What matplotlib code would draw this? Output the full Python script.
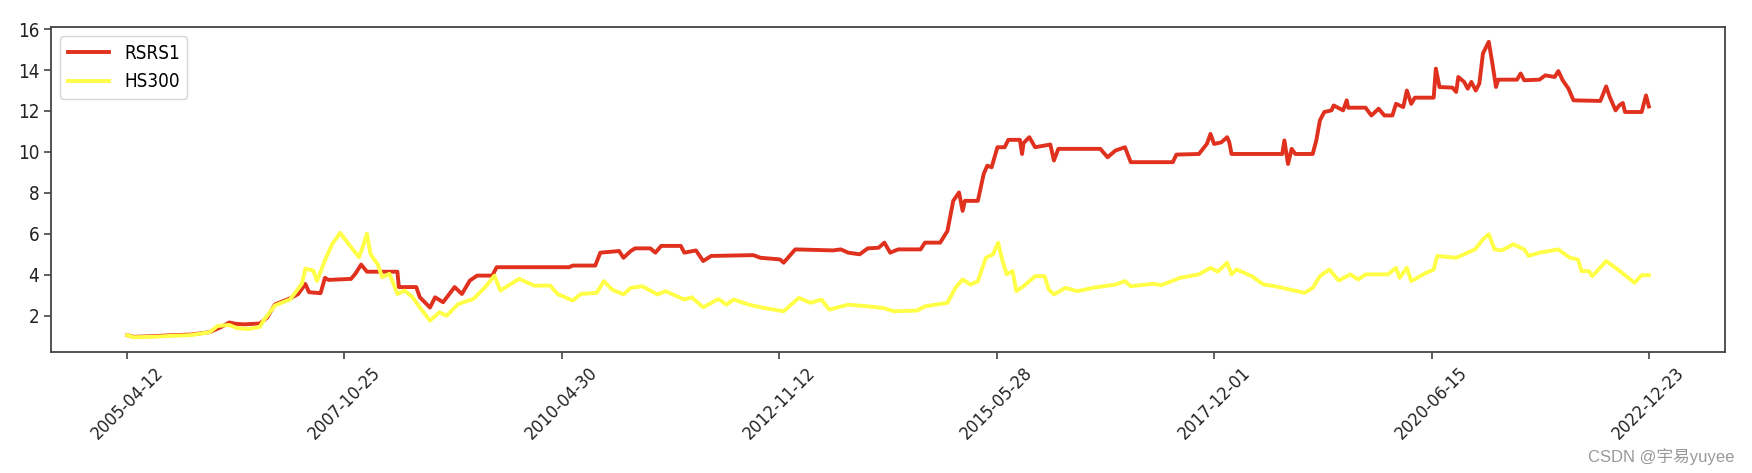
import numpy as np
import matplotlib
matplotlib.use("Agg")
import matplotlib.pyplot as plt

# x = sample step along the trading-day axis (0 .. 210), tick every 30 steps
tick_labels = ["2005-04-12", "2007-10-25", "2010-04-30", "2012-11-12",
               "2015-05-28", "2017-12-01", "2020-06-15", "2022-12-23"]

rsrs_t = [0, 0.9, 3.5, 6.2, 8.8, 11.4, 13.0, 14.1, 15.1, 16.2, 18.3, 19.3, 20.4, 22.5,
          23.6, 24.6, 25.1, 26.7, 27.3, 27.8, 30.9, 31.5, 32.3, 33.1, 37.3, 37.5, 39.9,
          40.4, 41.8, 42.5, 43.6, 45.2, 46.2, 47.3, 48.3, 50.4, 51.0, 61.0, 61.5, 64.6,
          65.3, 67.9, 68.5, 69.5, 70.1, 72.2, 72.9, 73.7, 76.4, 76.9, 78.5, 79.5, 80.6,
          86.4, 87.4, 90.1, 90.6, 92.2, 97.4, 98.5, 99.5, 101.1, 102.2, 103.7, 104.5,
          105.3, 106.4, 109.5, 110.1, 112.2, 113.2, 114.0, 114.8, 115.3, 115.6, 117.4,
          118.2, 118.7, 119.3, 120.1, 121.1, 121.6, 123.2, 123.5, 123.7, 124.5, 125.3,
          127.4, 127.9, 128.5, 134.3, 135.3, 136.4, 137.7, 138.5, 144.3, 144.8, 147.9,
          149.0, 149.5, 150.0, 151.0, 151.8, 152.1, 152.4, 159.4, 159.7, 160.2, 160.7,
          161.2, 163.6, 164.1, 164.6, 165.2, 166.2, 166.5, 167.8, 168.3, 168.5, 170.9,
          171.7, 172.7, 173.5, 174.6, 175.1, 176.1, 176.6, 177.2, 177.7, 180.3, 180.6,
          181.1, 182.9, 183.4, 183.7, 184.5, 185.0, 185.5, 186.1, 186.6, 187.1, 187.9,
          188.4, 188.9, 189.2, 191.8, 192.3, 192.8, 194.9, 195.7, 197.0, 197.5, 198.1,
          198.9, 199.6, 203.3, 204.1, 204.6, 205.4, 205.9, 206.4, 206.7, 209.0, 209.6,
          210.0]
rsrs_v = [1.05, 0.97, 1.0, 1.05, 1.08, 1.2, 1.45, 1.67, 1.6, 1.58, 1.62, 1.9, 2.55, 2.85,
          3.06, 3.55, 3.15, 3.1, 3.85, 3.75, 3.8, 4.05, 4.5, 4.15, 4.15, 3.4, 3.4,
          2.9, 2.4, 2.9, 2.66, 3.4, 3.06, 3.72, 3.96, 3.96, 4.37, 4.37, 4.45, 4.45,
          5.08, 5.16, 4.83, 5.16, 5.29, 5.29, 5.08, 5.41, 5.41, 5.08, 5.19, 4.67, 4.92,
          4.96, 4.83, 4.75, 4.59, 5.24, 5.19, 5.24, 5.08, 5.0, 5.29, 5.32, 5.57,
          5.08, 5.24, 5.24, 5.57, 5.57, 6.14, 7.61, 8.02, 7.12, 7.61, 7.61,
          8.92, 9.33, 9.25, 10.23, 10.23, 10.59, 10.59, 9.9, 10.43, 10.72, 10.23,
          10.36, 9.58, 10.15, 10.15, 9.74, 10.07, 10.23, 9.5, 9.5, 9.87, 9.9,
          10.39, 10.88, 10.39, 10.47, 10.72, 10.47, 9.9, 9.9, 10.56, 9.41, 10.15,
          9.9, 9.9, 10.56, 11.54, 11.95, 12.03, 12.27, 12.03, 12.52, 12.16, 12.16,
          11.78, 12.11, 11.78, 11.78, 12.35, 12.19, 13.0, 12.35, 12.65, 12.65, 14.07,
          13.17, 13.14, 12.93, 13.66, 13.42, 13.09, 13.42, 13.0, 13.34, 14.81, 15.38,
          14.32, 13.17, 13.53, 13.53, 13.83, 13.5, 13.53, 13.74, 13.66, 13.95, 13.5,
          13.09, 12.52, 12.49, 13.2, 12.68, 12.03, 12.27, 12.39, 11.95, 11.95, 12.76,
          12.22]

hs_t = [0, 0.9, 3.5, 6.2, 8.8, 11.4, 12.5, 14.1, 15.1, 16.7, 18.3, 18.8, 20.4, 22.5,
        24.1, 24.6, 25.7, 26.2, 27.3, 28.3, 29.4, 30.9, 32.0, 32.5, 33.1, 33.6, 34.6,
        35.2, 36.2, 37.3, 38.3, 39.4, 40.4, 41.8, 43.1, 44.1, 45.7, 47.8, 49.4, 50.7,
        51.5, 52.6, 54.1, 56.2, 58.4, 59.4, 61.5, 62.6, 64.8, 65.8, 66.9, 68.5, 69.5,
        71.1, 73.2, 74.3, 76.9, 77.9, 79.5, 81.6, 82.7, 83.7, 85.8, 87.9, 90.6, 92.7,
        94.3, 95.8, 96.9, 99.5, 102.2, 104.3, 105.8, 109.0, 110.1, 113.2, 114.3, 115.3,
        116.4, 117.4, 118.5, 119.5, 120.2, 120.8, 121.4, 122.2, 122.7, 123.7, 125.3,
        126.6, 127.2, 127.9, 129.5, 131.1, 133.7, 136.4, 137.7, 138.5, 141.6, 142.7,
        145.3, 147.9, 149.5, 150.5, 151.8, 152.4, 153.1, 155.2, 156.8, 158.4, 160.4,
        162.5, 163.6, 164.6, 165.9, 167.2, 168.8, 169.9, 170.9, 174.0, 175.1, 175.6,
        176.6, 177.2, 179.3, 180.3, 180.8, 183.4, 184.5, 186.0, 187.1, 187.9, 188.7,
        189.7, 191.3, 192.8, 193.4, 194.9, 197.5, 199.1, 200.2, 200.7, 201.7, 202.2,
        204.1, 205.4, 206.9, 208.0, 209.0, 210.0]
hs_v = [1.05, 0.95, 0.97, 1.02, 1.05, 1.2, 1.5, 1.55, 1.4, 1.35, 1.45, 1.75, 2.5, 2.8,
        3.55, 4.3, 4.2, 3.7, 4.7, 5.5, 6.05, 5.35, 4.86, 5.35, 6.0, 5.0, 4.5,
        3.88, 4.05, 3.06, 3.23, 2.9, 2.4, 1.76, 2.17, 2.0, 2.57, 2.82, 3.39, 3.96,
        3.23, 3.47, 3.8, 3.47, 3.47, 3.06, 2.74, 3.06, 3.12, 3.69, 3.28, 3.04, 3.36,
        3.44, 3.04, 3.2, 2.79, 2.9, 2.41, 2.82, 2.54, 2.79, 2.54, 2.38, 2.22, 2.87,
        2.63, 2.79, 2.3, 2.54, 2.46, 2.38, 2.22, 2.25, 2.46, 2.63, 3.36, 3.77,
        3.52, 3.69, 4.83, 5.0, 5.57, 4.67, 4.02, 4.18, 3.2, 3.44, 3.93,
        3.93, 3.28, 3.04, 3.36, 3.2, 3.39, 3.52, 3.69, 3.44, 3.56, 3.49,
        3.85, 4.02, 4.34, 4.15, 4.59, 4.02, 4.26, 3.93, 3.53, 3.44, 3.28,
        3.12, 3.36, 3.93, 4.26, 3.72, 4.02, 3.77, 4.02, 4.02, 4.34, 3.85,
        4.34, 3.69, 4.1, 4.26, 4.92, 4.83, 5.0, 5.24, 5.73, 5.98, 5.24,
        5.19, 5.49, 5.24, 4.92, 5.08, 5.24, 4.83, 4.75, 4.18, 4.18, 3.93,
        4.67, 4.34, 3.93, 3.61, 3.98, 3.98]

plt.rcParams['font.family'] = ['DejaVu Sans']
plt.rcParams['font.stretch'] = 'condensed'

fig = plt.figure(figsize=(17.52, 4.73), dpi=100)
ax = fig.add_axes([51 / 1752, 1 - 352 / 473, 1674 / 1752, 325 / 473])

ax.plot(rsrs_t, rsrs_v, color='#e0301e', lw=2.8, label='RSRS1')
ax.plot(hs_t, hs_v, color='#ffff48', lw=2.8, label='HS300')

ax.set_xticks(np.linspace(0, 210, 8))
ax.set_xticklabels(tick_labels, rotation=45, fontsize=13, color='#222222')
ax.set_yticks([2, 4, 6, 8, 10, 12, 14, 16])
ax.tick_params(axis='y', labelsize=13.5, labelcolor='#222222')
ax.tick_params(length=5, width=1.2, color='#444444')
for s in ax.spines.values():
    s.set_color('#444444')
    s.set_linewidth(1.3)

ax.legend(loc='upper left', fontsize=13.5, handlelength=2.2)

fig.text(0.99, 0.035, 'CSDN @宇易yuyee', ha='right', va='center', fontsize=12,
         color='#999999', family=['Liberation Sans', 'Noto Sans CJK SC'],
         stretch='normal')

fig.savefig('out.png', dpi=100)
